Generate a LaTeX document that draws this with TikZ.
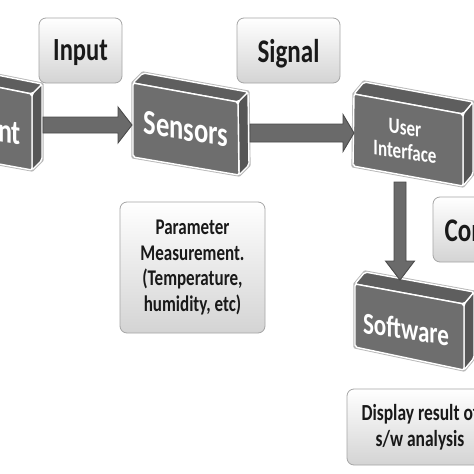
\documentclass[tikz,border=0pt]{standalone}
\usepackage{fontspec}
\setmainfont{Carlito}
\newfontfamily\condfont{Carlito}[FakeStretch=0.76]
\usetikzlibrary{calc}
\definecolor{frontc}{HTML}{6E6E6E}
\definecolor{topc}{HTML}{5E5E5E}
\definecolor{sidec}{HTML}{565656}
\definecolor{arrowc}{HTML}{6A6A6A}
\definecolor{arrowd}{HTML}{4A4A4A}
\newcommand\fsz[2]{\condfont\fontsize{#1}{#2}\selectfont\bfseries}
\newcommand\threedbox[5]{%
  \draw[rimst] (#4) -- (#1) -- ($(#1)+#5$) -- ($(#2)+#5$) -- ($(#3)+#5$) -- (#3) -- cycle;
  \filldraw[facest,fill=sidec] (#2) -- ($(#2)+#5$) -- ($(#3)+#5$) -- (#3) -- cycle;
  \filldraw[facest,fill=topc] (#1) -- ($(#1)+#5$) -- ($(#2)+#5$) -- (#2) -- cycle;
  \filldraw[facest,fill=frontc] (#1) -- (#2) -- (#3) -- (#4) -- cycle;}
\newcommand\fatarrowH[5]{%
  \filldraw[arrowst] ($(#1)+(0,#3)$) -- ($(#2)+(-#5,#3)$) -- ($(#2)+(-#5,#4)$) -- (#2)
    -- ($(#2)+(-#5,-#4)$) -- ($(#2)+(-#5,-#3)$) -- ($(#1)+(0,-#3)$) -- cycle;}
\newcommand\fatarrowV[5]{%
  \filldraw[arrowst] ($(#1)+(-#3,0)$) -- ($(#2)+(-#3,#5)$) -- ($(#2)+(-#4,#5)$) -- (#2)
    -- ($(#2)+(#4,#5)$) -- ($(#2)+(#3,#5)$) -- ($(#1)+(#3,0)$) -- cycle;}
\begin{document}
\begin{tikzpicture}[x=1pt,y=1pt,
  lbox/.style={draw=black!35,line width=0.8pt,rounded corners=7pt,top color=white,
    bottom color=black!17,inner sep=0pt,align=center,text=black!90},
  btext/.style={text=white,inner sep=0pt,align=center,transform shape,yslant=-0.15},
  arrowst/.style={fill=arrowc,draw=arrowd,line width=0.9pt,line join=miter},
  rimst/.style={draw=black!28,line width=3.2pt,line join=round},
  facest/.style={draw=white,line width=1.4pt,line join=round,rounded corners=2pt}]
\useasboundingbox (0,0) rectangle (474,-474);
\clip (0,0) rectangle (474,-474);
\fill[white] (0,0) rectangle (474,-474);

% label boxes
\node[lbox,minimum width=83pt,minimum height=65pt,text depth=0pt,
  font=\fsz{32.3}{36}] (input) at (80.5,-50.5) {Input};
\node[lbox,minimum width=103pt,minimum height=65pt,text depth=0pt,
  font=\fsz{33}{36}] (signal) at (288.5,-50.5) {Signal};
\node[lbox,minimum width=145pt,minimum height=131pt,
  font=\fsz{22.4}{25.5}] (param) at (192.5,-267.5)
  {Parameter\\Measurement.\\(Temperature,\\humidity, etc)};
\node[lbox,minimum width=100pt,minimum height=65pt,text depth=0pt,
  font=\fsz{33}{36}] (control) at (483,-229.5) {Control};
\node[lbox,minimum width=146pt,minimum height=76pt,
  font=\fsz{23}{26}] (display) at (420,-427)
  {Display result of\\s/w analysis};

% 3D boxes
\coordinate (eTL) at (-78,-72);  \coordinate (eTR) at (32,-94);
\coordinate (eBR) at (32,-170);  \coordinate (eBL) at (-78,-150);
\threedbox{eTL}{eTR}{eBR}{eBL}{(10,10)}
\node[btext,anchor=east,font=\fsz{34.3}{38}] (envT) at (21,-133) {Environment};

\coordinate (sTL) at (133,-83);  \coordinate (sTR) at (238,-102);
\coordinate (sBR) at (239,-175); \coordinate (sBL) at (133,-157);
\threedbox{sTL}{sTR}{sBR}{sBL}{(10,10)}
\node[btext,font=\fsz{35}{38}] (sensT) at (186,-129) {Sensors};

\coordinate (uTL) at (354,-94);  \coordinate (uTR) at (463,-114);
\coordinate (uBR) at (463,-186); \coordinate (uBL) at (353,-166);
\threedbox{uTL}{uTR}{uBR}{uBL}{(10,12)}
\node[btext,font=\fsz{22.4}{24}] (uiT) at (405,-140) {User\\Interface};

\coordinate (wTL) at (355,-284); \coordinate (wTR) at (464,-304);
\coordinate (wBR) at (464,-370); \coordinate (wBL) at (355,-347);
\threedbox{wTL}{wTR}{wBR}{wBL}{(10,12)}
\node[btext,font=\fsz{30.4}{34}] (softT) at (406,-329) {Software};

% arrows
\coordinate (a1s) at (43,-125);  \coordinate (a1e) at (132,-125);
\coordinate (a2s) at (250,-133); \coordinate (a2e) at (354,-133);
\coordinate (a3s) at (400,-182); \coordinate (a3e) at (400,-280);
\fatarrowH{a1s}{a1e}{8}{18}{14}
\fatarrowH{a2s}{a2e}{9}{18.5}{11}
\fatarrowV{a3s}{a3e}{6}{14.5}{19}
\end{tikzpicture}
\end{document}
